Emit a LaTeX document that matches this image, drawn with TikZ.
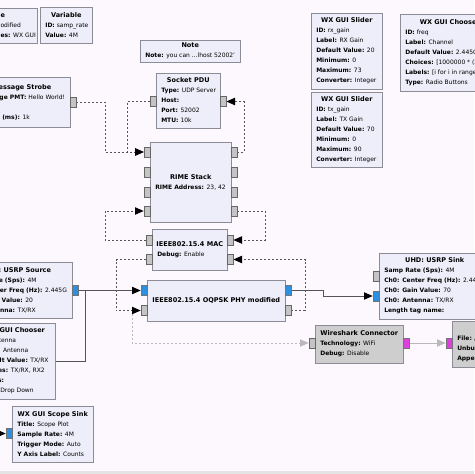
\documentclass[tikz,border=0pt]{standalone}
\usepackage{fontspec}
\setmainfont{DejaVu Sans}
\usetikzlibrary{arrows.meta}
\definecolor{bgc}{RGB}{253,248,253}
\definecolor{blkfill}{RGB}{238,238,250}
\definecolor{blkdraw}{RGB}{140,140,150}
\definecolor{disfill}{RGB}{206,206,206}
\definecolor{portgray}{RGB}{196,196,196}
\definecolor{portblue}{RGB}{44,143,224}
\definecolor{portmag}{RGB}{222,64,222}
\definecolor{linec}{RGB}{85,85,85}
\definecolor{disline}{RGB}{185,185,185}
\definecolor{stripc}{RGB}{228,228,228}
\pgfdeclarelayer{bgfill}
\pgfdeclarelayer{conn}
\pgfsetlayers{bgfill,conn,main}
\newcommand{\ttlfont}{\fontsize{4.9}{7.5}\selectfont\bfseries}
\newcommand{\grctitle}[1]{\makebox[\gt pt][c]{\ttlfont #1}}
\newcommand{\grcblk}[7][]{%
  \pgfmathsetmacro\gw{(#5-#3)*0.75}%
  \pgfmathsetmacro\gh{(#6-#4)*0.75}%
  \pgfmathsetmacro\gt{(#5-#3-10)*0.75}%
  \pgfmathsetmacro\gxc{(#3+#5)/2}%
  \pgfmathsetmacro\gyc{(#4+#6)/2}%
  \pgfmathsetmacro\gxl{#3+5}%
  \node[blk,#1,minimum width=\gw pt,minimum height=\gh pt] (#2) at (\gxc,\gyc) {};
  \node[blktxt] (#2t) at (\gxl,\gyc) {#7};}
\newcommand{\grcport}[4][portg]{\node[#1] (#2) at (#3,#4) {};}
\begin{document}
\begin{tikzpicture}[x=0.75pt,y=-0.75pt,
  font=\fontsize{4.5}{7.5}\selectfont,
  blk/.style={draw=blkdraw,fill=blkfill,line width=0.6pt,inner sep=0pt},
  blktxt/.style={inner sep=0pt,anchor=west,align=left},
  dis/.style={fill=disfill,draw=blkdraw},
  portg/.style={draw=black!60,fill=portgray,line width=0.5pt,minimum width=4.5pt,minimum height=7.5pt,inner sep=0pt},
  portb/.style={portg,fill=portblue,draw=black!55},
  portm/.style={portg,fill=portmag,draw=black!55},
  msgc/.style={draw=linec,line width=0.6pt,dash pattern=on 1.5pt off 1.5pt,-{Triangle[length=6.5pt,width=5.5pt,color=black]}},
  strc/.style={draw=linec,line width=0.6pt,-{Triangle[length=6.5pt,width=5.5pt,color=black]}},
  disc/.style={draw=disline,line width=0.6pt,dash pattern=on 1.5pt off 1.5pt,-{Triangle[length=6.5pt,width=5.5pt,color=disline]}},
  dissc/.style={draw=disline,line width=0.6pt,-{Triangle[length=6.5pt,width=5.5pt,color=disline]}},
  frag/.style={inner sep=0pt,align=left,anchor=west}
]
\useasboundingbox (0,0) rectangle (474,474);
\begin{pgfonlayer}{bgfill}
\fill[bgc] (0,0) rectangle (474,474);
\fill[stripc] (0,471) rectangle (474,474);
\end{pgfonlayer}

% ---- blocks ----
\node[blk,minimum width=72.75pt,minimum height=26.25pt] (opt) at (-11.5,25.5) {};
\node[frag] (opttxt) at (0.3,25.5) {{\ttlfont e}\\odified\\\textbf{es:} WX GUI};
\grcblk{var}{40}{7}{92}{43}{\grctitle{Variable}\\\textbf{ID:} samp\_rate\\\textbf{Value:} 4M}
\grcblk{note}{140}{40}{240}{62}{\grctitle{Note}\\\textbf{Note:} you can ...lhost 52002\char"0027}
\grcblk{sock}{156}{73}{220}{128}{\grctitle{Socket PDU}\\\textbf{Type:} UDP Server\\\textbf{Host:}\\\textbf{Port:} 52002\\\textbf{MTU:} 10k}
\grcblk{strobe}{-27}{77}{70}{127}{\grctitle{Message Strobe}\\\textbf{Message PMT:} Hello World!\\\mbox{}\\\textbf{Period (ms):} 1k}
\grcblk{sl1}{311}{13}{382}{89}{\grctitle{WX GUI Slider}\\\textbf{ID:} rx\_gain\\\textbf{Label:} RX Gain\\\textbf{Default Value:} 20\\\textbf{Minimum:} 0\\\textbf{Maximum:} 73\\\textbf{Converter:} Integer}
\grcblk{sl2}{311}{92}{382}{167}{\grctitle{WX GUI Slider}\\\textbf{ID:} tx\_gain\\\textbf{Label:} TX Gain\\\textbf{Default Value:} 70\\\textbf{Minimum:} 0\\\textbf{Maximum:} 90\\\textbf{Converter:} Integer}
\grcblk{chfreq}{400}{14}{499}{91}{\grctitle{WX GUI Chooser}\\\textbf{ID:} freq\\\textbf{Label:} Channel\\\textbf{Default Value:} 2.445G\\\textbf{Choices:} [1000000 * (2400 + 5 * (i - 10)) for i in range(11, 27)]\\\textbf{Labels:} [i for i in range(11, 27)]\\\textbf{Type:} Radio Buttons}
\grcblk{rime}{150}{142}{231}{222}{\grctitle{RIME Stack}\\\textbf{RIME Address:} 23, 42}
\grcblk{mac}{152}{229}{227}{270}{\grctitle{IEEE802.15.4 MAC}\\\textbf{Debug:} Enable}
\grcblk{phy}{147}{280}{285}{321}{\grctitle{IEEE802.15.4 OQPSK PHY modified}}
\grcblk{usrc}{-39}{262}{72}{318}{\grctitle{UHD: USRP Source}\\\textbf{Samp Rate (Sps):} 4M\\\textbf{Ch0: Center Freq (Hz):} 2.445G\\\textbf{Ch0: Gain Value:} 20\\\textbf{Ch0: Antenna:} TX/RX}
\grcblk{chant}{-25.5}{323}{55}{399}{\grctitle{WX GUI Chooser}\\\textbf{ID:} antenna\\\textbf{Label:} Antenna\\\textbf{Default Value:} TX/RX\\\textbf{Choices:} TX/RX, RX2\\\textbf{Labels:}\\\textbf{Type:} Drop Down}
\grcblk{scope}{12}{406}{93}{462}{\grctitle{WX GUI Scope Sink}\\\textbf{Title:} Scope Plot\\\textbf{Sample Rate:} 4M\\\textbf{Trigger Mode:} Auto\\\textbf{Y Axis Label:} Counts}
\grcblk{usnk}{379}{253}{490}{319}{\grctitle{UHD: USRP Sink}\\\textbf{Samp Rate (Sps):} 4M\\\textbf{Ch0: Center Freq (Hz):} 2.445G\\\textbf{Ch0: Gain Value:} 70\\\textbf{Ch0: Antenna:} TX/RX\\\textbf{Length tag name:}}
\grcblk[dis]{wsc}{315}{325}{403}{363}{\grctitle{Wireshark Connector}\\\textbf{Technology:} WiFi\\\textbf{Debug:} Disable}
\grcblk[dis]{fsink}{452}{321}{600}{367}{\grctitle{File Sink}\\\textbf{File:} /tmp/sensor.pcap\\\textbf{Unbuffered:} Off\\\textbf{Append file:} Overwrite}

% ---- ports ----
\grcport{msp}{73}{102}
\grcport{sockL}{153}{101.5}
\grcport{sockR}{223}{101.5}
\grcport{rimeL1}{147}{152}
\grcport{rimeL2}{147}{172}
\grcport{rimeL3}{147}{192}
\grcport{rimeL4}{147}{211}
\grcport{rimeR1}{234}{152}
\grcport{rimeR2}{234}{172}
\grcport{rimeR3}{234}{192}
\grcport{rimeR4}{234}{211}
\grcport{macL1}{149}{240}
\grcport{macL2}{149}{259.5}
\grcport{macR1}{230}{240}
\grcport{macR2}{230}{259.5}
\grcport[portb]{phyL1}{144}{290.5}
\grcport{phyL2}{144}{310.5}
\grcport[portb]{phyR1}{288}{290.5}
\grcport{phyR2}{288}{310.5}
\grcport[portb]{usrcO}{75}{290.5}
\grcport[portb]{scopeI}{9}{433.5}
\grcport{usnkI1}{376}{276}
\grcport[portb]{usnkI2}{376}{296}
\grcport{wsI}{312}{343}
\grcport[portm]{wsO}{406}{343}
\grcport[portm]{fsI}{449}{343}

% ---- connections ----
\begin{pgfonlayer}{conn}
\draw[disc] (macL2.west) -- (116,259.5) -- (116,310.5) -- (132,310.5) -- (132,343) -- (wsI.west);
\draw[dissc] (wsO.east) -- (fsI.west);
\draw[msgc] (msp.east) -- (105,102) |- (rimeL1.west);
\draw[msgc] (sockL.west) -- (127,101.5) |- (rimeL1.west);
\draw[msgc] (rimeR1.east) -- (244,152) |- (sockR.east);
\draw[msgc] (macL1.west) -- (105,240) |- (rimeL4.west);
\draw[msgc] (rimeR4.east) -- (265,211) |- (macR1.east);
\draw[msgc] (macL2.west) -- (116,259.5) |- (phyL2.west);
\draw[msgc] (phyR2.east) -- (305,310.5) |- (macR2.east);
\draw[strc] (usrcO.east) -- (phyL1.west);
\draw[strc] (usrcO.east) -- (85,290.5) -- (85,361) -- (-10,361) |- (scopeI.west);
\draw[strc] (phyR1.east) -- (323,290.5) |- (usnkI2.west);
\end{pgfonlayer}
\end{tikzpicture}
\end{document}
